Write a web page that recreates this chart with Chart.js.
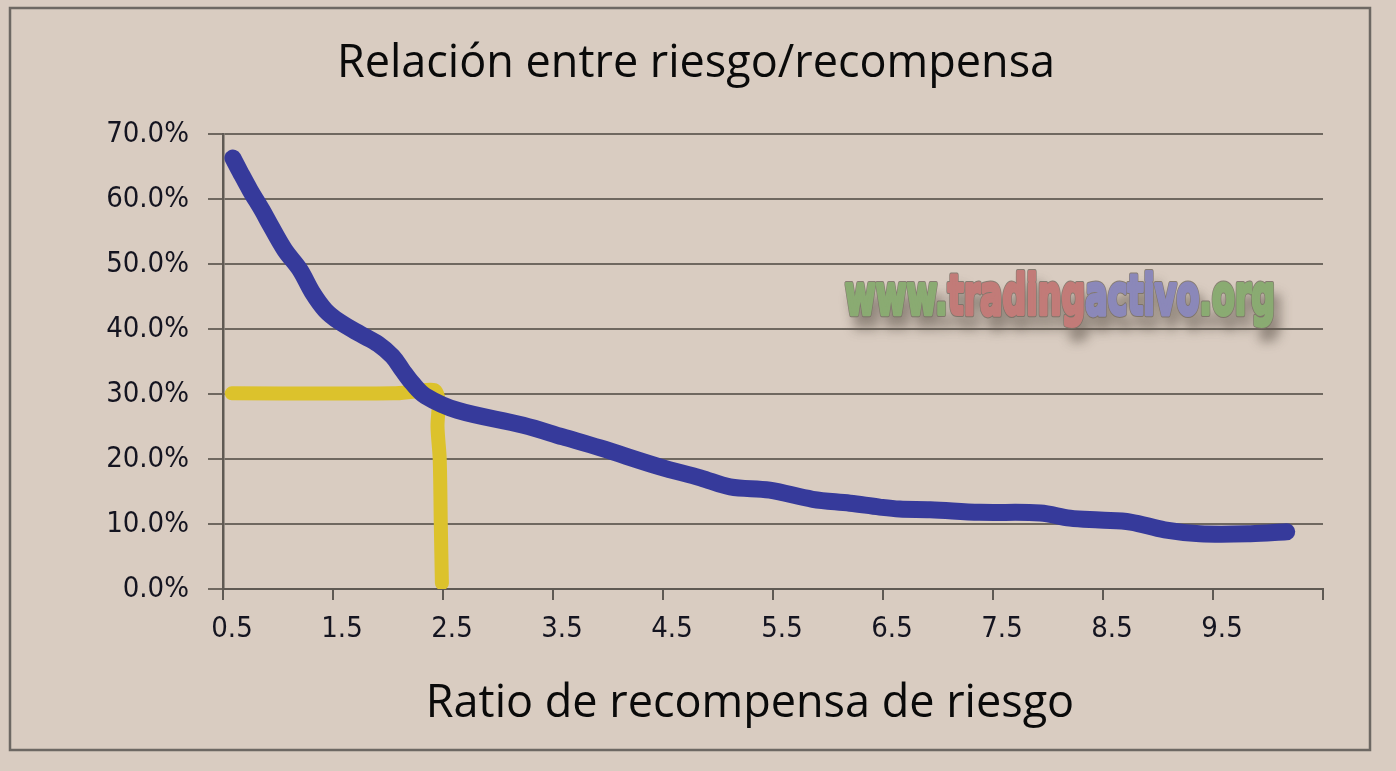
<!DOCTYPE html>
<html><head><meta charset="utf-8">
<script src="https://cdn.jsdelivr.net/npm/chart.js@4.4.1/dist/chart.umd.min.js"></script>
<style>html,body{margin:0;padding:0;background:#d9ccc1;overflow:hidden}canvas{display:block}</style>
</head><body>
<canvas id="c" width="1396" height="771"></canvas>
<script>
const chartTitle = 'Relación entre riesgo/recompensa';
const xAxisTitle = 'Ratio de recompensa de riesgo';
const watermarkParts = ['www.', 'trading', 'activo', '.org'];
const watermarkColors = ['#8aab72', '#c27b78', '#8b88b9', '#8aab72'];

const xTickValues = [0.5, 1.5, 2.5, 3.5, 4.5, 5.5, 6.5, 7.5, 8.5, 9.5, 10.5];
const xTickLabels = ['0.5', '1.5', '2.5', '3.5', '4.5', '5.5', '6.5', '7.5', '8.5', '9.5', ''];
const yTickValues = [0, 10, 20, 30, 40, 50, 60, 70];

// blue curve: reward/risk ratio vs. win rate (%)
const curveX = [0.59, 0.655, 0.745, 0.855, 0.93, 1.06, 1.2, 1.31, 1.43, 1.56, 1.75, 1.91, 2.04, 2.13, 2.22, 2.34, 2.63, 3.23, 3.59, 3.93, 4.47, 4.84, 5.11, 5.47, 5.86, 6.2, 6.47, 6.65, 6.93, 7.38, 7.93, 8.2, 8.47, 8.75, 9.06, 9.38, 9.84, 10.17];
const curveY = [66.3, 64.2, 61.4, 58.3, 56.0, 52.2, 49.1, 45.7, 42.9, 41.1, 39.2, 37.7, 35.8, 33.7, 31.7, 29.7, 27.5, 25.2, 23.4, 21.7, 18.8, 17.1, 15.7, 15.2, 13.8, 13.2, 12.6, 12.3, 12.2, 11.8, 11.7, 10.9, 10.6, 10.3, 9.1, 8.5, 8.5, 8.8];

// yellow guide: 30% -> ratio 2.5
const guideX = [0.58, 2.05, 2.25, 2.42, 2.46, 2.45, 2.47, 2.48, 2.49];
const guideY = [30.1, 30.1, 30.4, 30.6, 29.0, 25.0, 20.0, 10.0, 0.9];

const bg = '#d9ccc1';

const decor = {
  id: 'decor',
  beforeDraw(chart) {
    const ctx = chart.ctx;
    ctx.save();
    ctx.fillStyle = bg;
    ctx.fillRect(0, 0, chart.width, chart.height);
    ctx.strokeStyle = '#6d6863';
    ctx.lineWidth = 2.5;
    ctx.strokeRect(10, 8, 1360, 742);
    ctx.restore();
  },
  beforeDatasetsDraw(chart) {
    const ctx = chart.ctx;
    ctx.save();
    ctx.font = 'bold 56px "DejaVu Sans"';
    ctx.textBaseline = 'alphabetic';
    ctx.textAlign = 'left';
    ctx.lineJoin = 'round';
    const full = watermarkParts.join('');
    const w = ctx.measureText(full).width;
    const targetW = 430;
    const sx = targetW / w;
    const x0 = 845, base = 314;
    ctx.save();
    ctx.translate(x0, base);
    ctx.scale(sx, 1);
    ctx.filter = 'blur(6px)';
    ctx.fillStyle = 'rgba(95,85,75,0.5)';
    ctx.fillText(full, 6 / sx, 13);
    ctx.strokeStyle = 'rgba(95,85,75,0.5)';
    ctx.lineWidth = 5;
    ctx.strokeText(full, 6 / sx, 13);
    ctx.restore();
    ctx.save();
    ctx.translate(x0, base);
    ctx.scale(sx, 1);
    let x = 0;
    watermarkParts.forEach((p, i) => {
      ctx.fillStyle = watermarkColors[i];
      ctx.strokeStyle = 'rgba(120,110,100,0.85)';
      ctx.lineWidth = 6;
      ctx.strokeText(p, x, 0);
      ctx.fillText(p, x, 0);
      ctx.strokeStyle = watermarkColors[i];
      ctx.lineWidth = 4;
      ctx.strokeText(p, x, 0);
      x += ctx.measureText(p).width;
    });
    ctx.restore();
    ctx.restore();
  },
  afterDraw(chart) {
    const ctx = chart.ctx;
    ctx.save();
    ctx.fillStyle = '#0a0a0a';
    ctx.textAlign = 'center';
    ctx.textBaseline = 'alphabetic';
    ctx.font = '45px "Open Sans"';
    ctx.fillText(chartTitle, 696, 77);
    ctx.font = '45px "Open Sans"';
    ctx.fillText(xAxisTitle, 750, 717);
    ctx.restore();
  }
};

const tickFont = { family: '"DejaVu Sans Condensed", "DejaVu Sans"', size: 29 };

new Chart(document.getElementById('c'), {
  type: 'line',
  data: {
    datasets: [
      {
        data: curveX.map((x, i) => ({ x, y: curveY[i] })),
        borderColor: '#363a9b',
        borderWidth: 17,
        borderCapStyle: 'round',
        borderJoinStyle: 'round',
        pointRadius: 0,
        tension: 0.35,
        fill: false,
        order: 0
      },
      {
        data: guideX.map((x, i) => ({ x, y: guideY[i] })),
        borderColor: '#dcc22c',
        borderWidth: 14,
        borderCapStyle: 'round',
        borderJoinStyle: 'round',
        pointRadius: 0,
        tension: 0.3,
        fill: false,
        order: 1
      }
    ]
  },
  options: {
    responsive: false,
    devicePixelRatio: 1,
    animation: false,
    layout: { padding: { left: 0, right: 73, top: 134, bottom: 0 } },
    plugins: { legend: { display: false }, tooltip: { enabled: false }, title: { display: false } },
    scales: {
      x: {
        type: 'linear',
        min: 0.5,
        max: 10.5,
        afterBuildTicks(s) { s.ticks = xTickValues.map(v => ({ value: v })); },
        afterFit(s) { s.height = 182; },
        ticks: {
          callback(v) { const i = xTickValues.indexOf(v); return i >= 0 ? xTickLabels[i] : ''; },
          font: tickFont,
          color: '#141420',
          padding: 12,
          labelOffset: 9,
          maxRotation: 0,
          autoSkip: false
        },
        grid: { drawOnChartArea: false, color: '#5f5953', lineWidth: 2, tickLength: 11 },
        border: { display: true, color: '#5f5953', width: 2 }
      },
      y: {
        min: 0,
        max: 70,
        afterBuildTicks(s) { s.ticks = yTickValues.map(v => ({ value: v })); },
        afterFit(s) { s.width = 223; },
        ticks: {
          callback(v) { return v.toFixed(1) + '%'; },
          font: tickFont,
          color: '#141420',
          padding: 19
        },
        grid: { color: '#6f6860', lineWidth: 2, tickLength: 15 },
        border: { display: true, color: '#5f5953', width: 2.5 }
      }
    }
  },
  plugins: [decor]
});
</script>
</body></html>
